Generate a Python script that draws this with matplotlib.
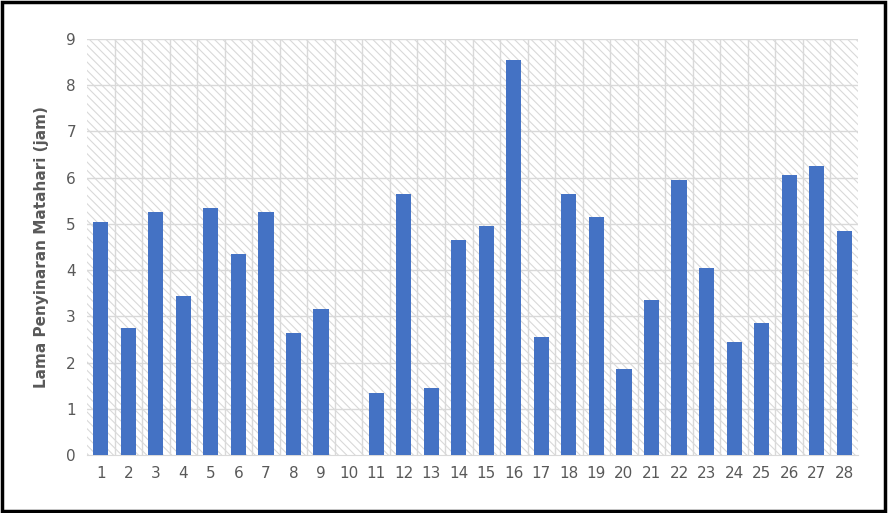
import numpy as np
import matplotlib.pyplot as plt
import matplotlib.patches as mpatches

days = list(range(1, 29))
hours = [5.05, 2.75, 5.25, 3.45, 5.35, 4.35, 5.25, 2.65, 3.15, 0, 1.35, 5.65, 1.45, 4.65,
         4.95, 8.55, 2.55, 5.65, 5.15, 1.85, 3.35, 5.95, 4.05, 2.45, 2.85, 6.05, 6.25, 4.85]

plt.rcParams['hatch.color'] = '#d9d9d9'
plt.rcParams['hatch.linewidth'] = 0.8

fig = plt.figure(figsize=(8.88, 5.13), dpi=100)
ax = fig.add_axes([87/888, 1 - 455/513, (858-87)/888, (455-39)/513])

x = np.arange(len(days))
ax.set_xlim(-0.5, len(days) - 0.5)
ax.set_ylim(0, 9)

# latar belakang berpola
ax.add_patch(mpatches.Rectangle((0, 0), 1, 1, transform=ax.transAxes, facecolor='white',
                                hatch='\\\\\\\\', edgecolor='#d9d9d9', lw=0, zorder=0))
for xv in np.arange(0.5, len(days) - 0.5, 1):
    ax.axvline(xv, color='#d9d9d9', lw=1, zorder=1)
for yv in range(1, 10):
    ax.axhline(yv, color='#d9d9d9', lw=1, zorder=1)

ax.bar(x, hours, width=0.55, color='#4472c4', zorder=3)

ax.set_xticks(x)
ax.set_xticklabels([str(d) for d in days])
ax.set_yticks(range(0, 10))
ax.tick_params(length=0, labelsize=11, colors='#595959', pad=8)
for s in ['top', 'right', 'left']:
    ax.spines[s].set_visible(False)
ax.spines['bottom'].set_color('#d9d9d9')
ax.set_ylabel('Lama Penyinaran Matahari (jam)', fontsize=11, fontweight='bold',
              color='#595959', labelpad=12)

fig.add_artist(mpatches.Rectangle((0.002, 0.003), 0.995, 0.994, transform=fig.transFigure,
                                  fill=False, edgecolor='black', lw=2.5))

fig.savefig('out.png')
